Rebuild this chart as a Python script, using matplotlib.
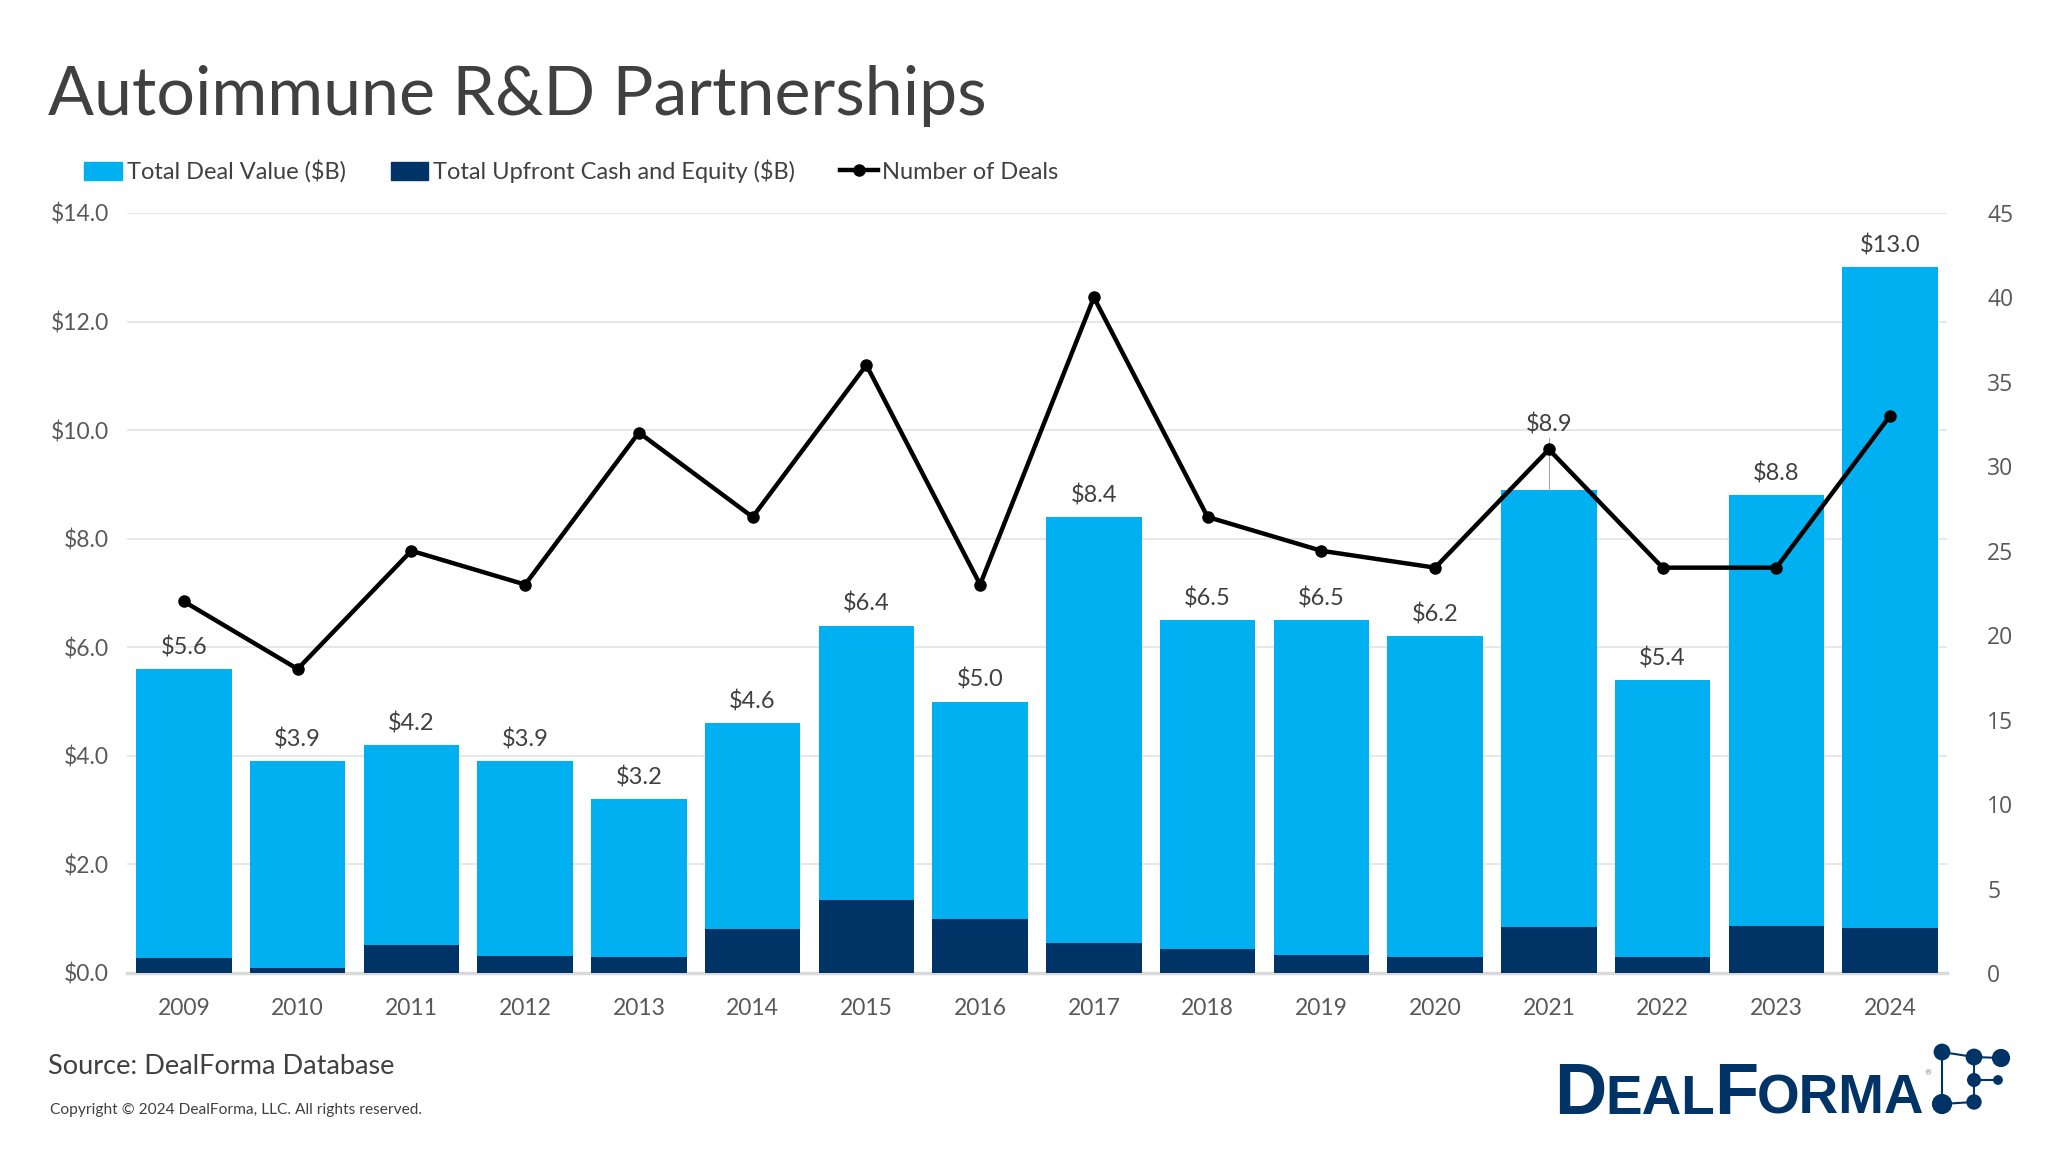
import matplotlib
matplotlib.use('Agg')
import matplotlib.pyplot as plt
from matplotlib.lines import Line2D
from matplotlib.patches import Patch, Circle

years = ['2009', '2010', '2011', '2012', '2013', '2014', '2015', '2016',
         '2017', '2018', '2019', '2020', '2021', '2022', '2023', '2024']
total_value = [5.6, 3.9, 4.2, 3.9, 3.2, 4.6, 6.4, 5.0, 8.4, 6.5, 6.5, 6.2, 8.9, 5.4, 8.8, 13.0]
upfront = [0.28, 0.10, 0.52, 0.31, 0.29, 0.81, 1.34, 0.99, 0.55, 0.45, 0.34, 0.30, 0.84, 0.30, 0.86, 0.82]
num_deals = [22, 18, 25, 23, 32, 27, 36, 23, 40, 27, 25, 24, 31, 24, 24, 33]

LIGHT = '#00B0F0'
DARK = '#003366'
GRAY = '#404040'
FONT = ['Lato', 'DejaVu Sans']
FONT_R = ['Open Sans', 'DejaVu Sans']

plt.rcParams['font.family'] = FONT

W, H = 2048, 1152
fig = plt.figure(figsize=(W / 100, H / 100), dpi=100)
ax = fig.add_axes([127 / W, 1 - 973 / H, 1820 / W, 760 / H])

x = list(range(len(years)))
ax.bar(x, total_value, width=0.84, color=LIGHT, zorder=2)
ax.bar(x, upfront, width=0.84, color=DARK, zorder=3)

ax.set_xlim(-0.5, len(years) - 0.5)
ax.set_ylim(0, 14)
ax.set_yticks([0, 2, 4, 6, 8, 10, 12, 14])
ax.set_yticklabels([f'${v:.1f}' for v in ax.get_yticks()])
ax.set_xticks(x)
ax.set_xticklabels(years)
ax.tick_params(axis='both', length=0, labelsize=16.5, labelcolor='#595959')
ax.tick_params(axis='x', pad=18)
ax.tick_params(axis='y', pad=13)
ax.grid(axis='y', color='#E3E3E3', lw=1.2, zorder=0)
for s in ['top', 'right', 'left']:
    ax.spines[s].set_visible(False)
ax.spines['bottom'].set_color('#D9D9D9')
ax.spines['bottom'].set_linewidth(2.5)

for i, v in enumerate(total_value):
    if years[i] == '2021':
        ax.plot([i, i], [v, v + 0.95], color='#A6A6A6', lw=0.8, zorder=4)
        ax.text(i, v + 1.0, f'${v:.1f}', ha='center', va='bottom', fontsize=17, color=GRAY, zorder=5)
    else:
        ax.text(i, v + 0.2, f'${v:.1f}', ha='center', va='bottom', fontsize=17, color=GRAY, zorder=5)

ax2 = ax.twinx()
ax2.plot(x, num_deals, color='black', lw=3.2, marker='o', ms=8, zorder=6)
ax2.set_ylim(0, 45)
ax2.set_yticks(range(0, 46, 5))
ax2.tick_params(axis='y', length=0, labelsize=16.5, labelcolor='#595959', pad=29)
for lab in ax2.get_yticklabels():
    lab.set_family(FONT_R)
for s in ax2.spines.values():
    s.set_visible(False)

# title, legend, footer
fig.text(48 / W, 1 - 115 / H, 'Autoimmune R&D Partnerships', fontsize=49, color=GRAY, va='baseline')

handles = [Patch(color=LIGHT, label='Total Deal Value ($B)'),
           Patch(color=DARK, label='Total Upfront Cash and Equity ($B)'),
           Line2D([], [], color='black', lw=3.2, marker='o', ms=8, label='Number of Deals')]
fig.legend(handles=handles, loc='center left', bbox_to_anchor=(63 / W, 1 - 171 / H), ncol=3,
           frameon=False, fontsize=17, handlelength=1.6, handleheight=0.8, handletextpad=0.2,
           columnspacing=1.9, labelcolor=GRAY)

fig.text(48 / W, 1 - 1066 / H, 'Source: DealForma Database', fontsize=19.5, color=GRAY, va='center')
fig.text(50 / W, 1 - 1110 / H, 'Copyright \u00a9 2024 DealForma, LLC. All rights reserved.',
         fontsize=11.2, color=GRAY, va='center')

# logo
lx0, lx1, ly0, ly1 = 1540, 2030, 1035, 1125
lax = fig.add_axes([lx0 / W, 1 - ly1 / H, (lx1 - lx0) / W, (ly1 - ly0) / H])
lax.set_xlim(lx0, lx1)
lax.set_ylim(ly1, ly0)
lax.axis('off')

renderer = fig.canvas.get_renderer()
pos = 1554
for part, size in [('D', 52), ('EAL', 39.5), ('F', 52), ('ORMA', 39.5)]:
    t = lax.text(pos, 1114, part, fontsize=size, fontweight='bold', color=DARK,
                 family=['Liberation Sans', 'DejaVu Sans'], va='baseline', ha='left')
    bb = t.get_window_extent(renderer)
    pos = lax.transData.inverted().transform((bb.x1, bb.y0))[0] - 1
lax.text(pos + 1, 1073, '\u00ae', fontsize=6, color='#7F7F7F', va='center', ha='left')

nodes = [(1942, 1052, 7.7), (1974, 1057, 7.7), (2001, 1058, 8.4), (1974, 1080, 6.3),
         (1998, 1080, 4.2), (1942, 1104, 9.4), (1974, 1102, 7.0)]
edges = [(0, 1), (1, 2), (0, 5), (1, 6), (3, 4), (5, 6)]
for a, b in edges:
    lax.plot([nodes[a][0], nodes[b][0]], [nodes[a][1], nodes[b][1]], color=DARK, lw=1.5)
for cx, cy, r in nodes:
    lax.add_patch(Circle((cx, cy), r, color=DARK))

fig.savefig('out.png', dpi=100)
